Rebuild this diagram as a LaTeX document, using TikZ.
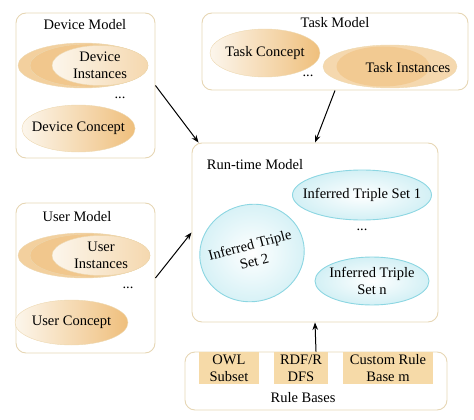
\documentclass[tikz,border=0pt]{standalone}
\usepackage{fontspec}
\setmainfont{Liberation Serif}
\usetikzlibrary{arrows.meta, shapes.geometric}

\definecolor{boxline}{HTML}{E6D6B4}
\definecolor{tanline}{HTML}{EDD8B0}
\definecolor{tandark}{HTML}{EFBF7C}
\definecolor{tanlight}{HTML}{FCF6EC}
\definecolor{rulefill}{HTML}{F6DAA8}
\definecolor{cyanline}{HTML}{8CD6E2}
\definecolor{cyanfill}{HTML}{D3F0F5}

\begin{document}
\begin{tikzpicture}[
        x=1pt, y=-1pt,
        font=\fontsize{14.5}{17}\selectfont,
        model/.style={draw=boxline, line width=0.9pt, rounded corners=10pt, inner sep=0pt},
        concept/.style={ellipse, draw=tanline, inner sep=0pt, left color=tanlight, right color=tandark, align=center},
        stack/.style={ellipse, draw=tanline, inner sep=0pt, fill=#1},
        triple/.style={ellipse, draw=cyanline, line width=0.9pt, inner sep=0pt, inner color=white, outer color=cyanfill, align=center},
        rulebox/.style={fill=rulefill, inner sep=0pt, align=center},
        flow/.style={-Stealth, line width=1pt}
        ]
        \useasboundingbox (0,0) rectangle (474,420);

        % Device Model
        \node[model, minimum width=139, minimum height=145] (device) at (85.5,85.5) {};
        \node (device-title) at (85,25) {Device Model};
        \node[stack=tandark!70!tanlight, minimum width=130, minimum height=45] (dev-inst3) at (83,65.5) {};
        \node[stack=tandark!85!tanlight, minimum width=118, minimum height=43] (dev-inst2) at (89,65.5) {};
        \node[concept, minimum width=96, minimum height=40, inner xsep=6pt, inner ysep=-1pt, left color=tanlight, right color=tandark!55!tanlight] (dev-inst) at (100,65.5) {Device\\Instances};
        \node (dev-dots) at (120,98) {...};
        \node[concept, minimum width=113, minimum height=47, inner xsep=-6.5pt] (dev-concept) at (78.5,128.5) {Device Concept};

        % Task Model
        \node[model, minimum width=266, minimum height=77] (task) at (335,51.5) {};
        \node (task-title) at (335,23) {Task Model};
        \node[concept, minimum width=110, minimum height=48, inner xsep=-1pt] (task-concept) at (265,53) {Task Concept};
        \node[stack=tandark!55!tanlight, minimum width=134, minimum height=43] (task-inst2) at (390,66.5) {};
        \node[stack=tandark!80!tanlight, draw=none, minimum width=93, minimum height=40] (task-inst1) at (383,66.5) {};
        \node (task-inst) at (408,68) {Task Instances};
        \node (task-dots) at (308,76) {...};

        % User Model
        \node[model, minimum width=139, minimum height=150] (user) at (85.5,278) {};
        \node (user-title) at (77,217) {User Model};
        \node[stack=tandark!70!tanlight, minimum width=132, minimum height=45] (user-inst3) at (84,255.5) {};
        \node[stack=tandark!85!tanlight, minimum width=120, minimum height=43] (user-inst2) at (90,255.5) {};
        \node[concept, minimum width=98, minimum height=40, inner xsep=6pt, inner ysep=-1pt, left color=tanlight, right color=tandark!55!tanlight] (user-inst) at (101,255.5) {User\\Instances};
        \node (user-dots) at (128,288) {...};
        \node[concept, minimum width=113, minimum height=45] (user-concept) at (71.5,322.5) {User Concept};

        % Run-time Model
        \node[model, minimum width=246, minimum height=179] (runtime) at (315,232.5) {};
        \node (runtime-title) at (255,165) {Run-time Model};
        \node[triple, minimum width=139, minimum height=50, inner xsep=-10pt] (set1) at (362,195) {Inferred Triple Set 1};
        \node (set-dots) at (362,230) {...};
        \node[triple, minimum width=105, minimum height=97, inner xsep=-6pt, rotate=15] (set2) at (252,253) {Inferred Triple\\Set 2};
        \node[triple, minimum width=114, minimum height=48, inner xsep=-2.5pt] (setn) at (372,281) {Inferred Triple\\Set n};

        % Rule Bases
        \node[model, minimum width=262, minimum height=58] (rules) at (316,381) {};
        \node (rules-title) at (303,398) {Rule Bases};
        \node[rulebox, minimum width=60, minimum height=32] (owl) at (229,368) {OWL\\Subset};
        \node[rulebox, minimum width=54, minimum height=32] (rdfs) at (301,368) {RDF/R\\DFS};
        \node[rulebox, minimum width=90, minimum height=32] (custom) at (388,368) {Custom Rule\\Base m};

        \draw[flow] (device.east) -- ([xshift=7]runtime.north west);
        \draw[flow] (task.south) -- (runtime.north);
        \draw[flow] (user.east) -- (runtime.west);
        \draw[flow] (rules.north) -- (runtime.south);
    \end{tikzpicture}
\end{document}
